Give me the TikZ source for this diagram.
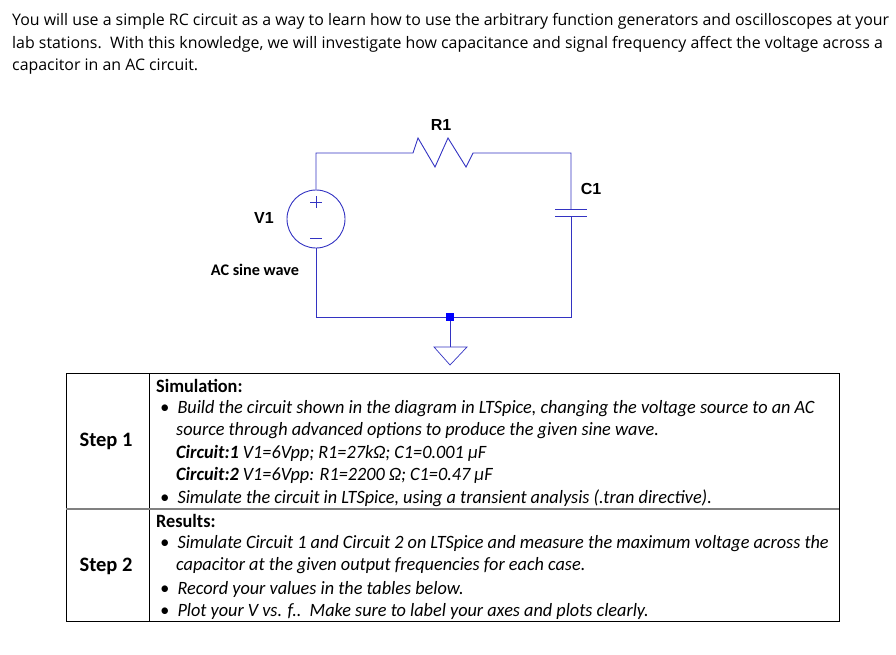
\documentclass[tikz,border=0pt]{standalone}
\usepackage{fontspec}
\setmainfont{Carlito}
\newfontfamily\opensans{Open Sans}
\newfontfamily\arial{Liberation Sans}
\newfontfamily\condit[FakeStretch=0.97]{Carlito}
\begin{document}
\begin{tikzpicture}[x=1pt,y=-1pt,
  wire/.style={draw=blue!70!black!80!white,line width=0.9pt},
  lbl/.style={font=\arial\fontsize{16}{16}\selectfont\bfseries,inner sep=0pt},
  para/.style={anchor=west,inner sep=0pt,font=\opensans\fontsize{15.9}{18}\selectfont},
  cell/.style={anchor=west,inner sep=0pt,font=\condit\fontsize{18.8}{20}\selectfont\itshape},
  tbl/.style={draw=black,line width=0.8pt}]
\useasboundingbox (0,0) rectangle (896,655);
\node[para] (p1) at (12,21) {You will use a simple RC circuit as a way to learn how to use the arbitrary function generators and oscilloscopes at your};
\node[para] (p2) at (12,44) {lab stations.\ \ With this knowledge, we will investigate how capacitance and signal frequency affect the voltage across a};
\node[para] (p3) at (12,67) {capacitor in an AC circuit.};
% circuit
\coordinate (tl) at (316,153); \coordinate (tr) at (571,153);
\coordinate (bl) at (316,317); \coordinate (br) at (571,317);
\coordinate (ra) at (413,153); \coordinate (rb) at (473,153);
\node[circle,draw=blue!70!black!80!white,line width=0.9pt,minimum size=58pt,inner sep=0pt] (v1) at (316,219) {};
\draw[wire] (v1.north) -- (tl) -- (ra) -- (418,138) -- (435,167) -- (448,138) -- (466,167) -- (rb) -- (tr) -- (571,209);
\draw[wire] (555,209) -- (587,209) (555,216) -- (587,216);
\draw[wire] (571,216) -- (br) -- (bl) -- (v1.south);
\draw[wire,line width=0.7pt] (316,196) -- (316,208) (310,202) -- (322,202) (310,238) -- (322,238);
\node[fill=blue,minimum size=8pt,inner sep=0pt] (j) at (450,317) {};
\coordinate (g) at (450,347);
\draw[wire] (j) -- (g);
\draw[wire,line width=0.7pt] (434,347) -- (467,347) -- (450,365) -- cycle;
\node[lbl] (r1) at (441,125) {R1};
\node[lbl] (c1) at (591,189) {C1};
\node[lbl] (vl) at (264,218) {V1};
\node[inner sep=0pt,font=\fontsize{16.2}{16}\selectfont\bfseries] (ac) at (255,270) {AC sine wave};
% table
\draw[tbl] (66,373) rectangle (839,621);
\draw[tbl] (149,373) -- (149,621);
\draw[draw=gray,line width=2pt] (66,509) -- (839,509);
\node[lbl,font=\fontsize{20.5}{20}\selectfont\bfseries] (s1) at (106,441) {Step 1};
\node[lbl,font=\fontsize{20.5}{20}\selectfont\bfseries] (s2) at (106,566) {Step 2};
\node[cell,font=\condit\fontsize{18.8}{20}\selectfont\bfseries] (sim) at (156,386) {Simulation:};
\node[cell] (a1) at (160,409) {\textbullet\ \ Build the circuit shown in the diagram in LTSpice, changing the voltage source to an AC};
\node[cell] (a2) at (176,431) {source through advanced options to produce the given sine wave.};
\node[cell] (a3) at (176,453) {\textbf{Circuit:1} V1=6Vpp; R1=27kΩ; C1=0.001 µF};
\node[cell] (a4) at (176,475) {\textbf{Circuit:2} V1=6Vpp: R1=2200 Ω; C1=0.47 µF};
\node[cell] (a5) at (160,498) {\textbullet\ \ Simulate the circuit in LTSpice, using a transient analysis (.tran directive).};
\node[cell,font=\condit\fontsize{18.8}{20}\selectfont\bfseries] (res) at (156,521) {Results:};
\node[cell] (b1) at (160,544) {\textbullet\ \ Simulate Circuit 1 and Circuit 2 on LTSpice and measure the maximum voltage across the};
\node[cell] (b2) at (176,566) {capacitor at the given output frequencies for each case.};
\node[cell] (b3) at (160,589) {\textbullet\ \ Record your values in the tables below.};
\node[cell] (b4) at (160,611) {\textbullet\ \ Plot your V vs. f..\ \ Make sure to label your axes and plots clearly.};
\end{tikzpicture}
\end{document}
